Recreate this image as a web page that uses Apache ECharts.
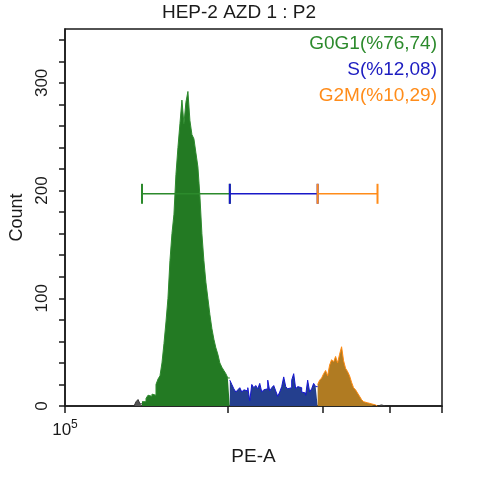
<!DOCTYPE html>
<html>
<head>
<meta charset="utf-8">
<script src="https://cdn.jsdelivr.net/npm/echarts@6/dist/echarts.min.js"></script>
<style>
html,body{margin:0;padding:0;background:#fff;}
#c{width:500px;height:493px;}
</style>
</head>
<body>
<div id="c"></div>
<script>
// x values are log10(PE-A)
const binStart = 5.128;
const binWidth = 0.0037;
const preGateCounts = [0, 4, 6, 2];
const g0g1Counts = [4, 4, 7, 10, 9, 11, 10, 20, 25, 28,
  40, 58, 78, 100, 135, 160, 178, 215, 240, 262,
  284, 262, 282, 292, 265, 252, 248, 235, 222, 195,
  160, 135, 115, 100, 85, 72, 62, 54, 48, 40,
  36, 33, 30, 26];
const sCounts = [24, 20, 16, 13, 15, 17, 13, 15, 14, 17,
  5, 20, 17, 19, 16, 21, 13, 15, 16, 24,
  14, 17, 19, 14, 9, 13, 18, 27, 18, 16,
  17, 24, 30, 16, 18, 17, 13, 12, 10, 24,
  13, 16, 21, 18];
const g2mCounts = [20, 24, 26, 30, 33, 28, 38, 43, 41, 46,
  40, 48, 55, 42, 35, 32, 28, 22, 17, 15,
  12, 9, 6, 4, 3, 2, 2, 1, 1, 0];
const postGateCounts = [0, 1, 2, 0];

const gateNames = ['G0G1(%76,74)', 'S(%12,08)', 'G2M(%10,29)'];
const gateY = 197;
const xTickValues = [1e5, 2e5, 3e5, 4e5, 5e5];
const yTickValues = [0,20,40,60,80,100,120,140,160,180,200,220,240,260,280,300,320,340];
const yLabelValues = [0, 100, 200, 300];

const FONT = '"Liberation Sans", Arial, sans-serif';
const cGreen = '#2c8a2c', cBlue = '#1818c8', cOrange = '#ff8c1a';

function seg(counts, offset) {
  const pts = counts.map((c, i) => [binStart + (offset + i) * binWidth, c]);
  pts.push([binStart + (offset + counts.length) * binWidth, counts[counts.length - 1]]);
  return pts;
}
let off = 0;
const segs = [];
[preGateCounts, g0g1Counts, sCounts, g2mCounts, postGateCounts].forEach(a => { segs.push(seg(a, off)); off += a.length; });
const gateEdges = [];
{
  let o = preGateCounts.length;
  [g0g1Counts, sCounts, g2mCounts].forEach(a => {
    gateEdges.push([binStart + o * binWidth, binStart + (o + a.length) * binWidth]);
    o += a.length;
  });
}
const styles = [
  {line: '#333', fill: '#555'},
  {line: '#2e8a2e', fill: '#237a23'},
  {line: '#1414d2', fill: '#243f8e'},
  {line: '#ff8a10', fill: '#b07b22'},
  {line: '#333', fill: '#555'}
];
const gateColors = [cGreen, cBlue, cOrange];

const series = segs.map((d, k) => ({
  type: 'line', step: 'end', data: d, symbol: 'none', silent: true,
  lineStyle: {color: styles[k].line, width: 1},
  areaStyle: {color: styles[k].fill, opacity: 1},
  z: 2
}));
series.push({
  type: 'custom', z: 5, silent: true,
  data: gateEdges.map((e, k) => [e[0], e[1], gateY, k]),
  encode: {x: [0, 1], y: 2},
  renderItem: function (params, api) {
    const p1 = api.coord([api.value(0), api.value(2)]);
    const p2 = api.coord([api.value(1), api.value(2)]);
    const col = gateColors[api.value(3)];
    const st = {stroke: col, lineWidth: 1.6};
    return {type: 'group', children: [
      {type: 'line', shape: {x1: p1[0], y1: p1[1], x2: p2[0], y2: p2[1]}, style: st},
      {type: 'line', shape: {x1: p1[0], y1: p1[1] - 10, x2: p1[0], y2: p1[1] + 10}, style: {stroke: col, lineWidth: 2}},
      {type: 'line', shape: {x1: p2[0], y1: p2[1] - 10, x2: p2[0], y2: p2[1] + 10}, style: {stroke: col, lineWidth: 2}}
    ]};
  }
});

const chart = echarts.init(document.getElementById('c'), null, {renderer: 'canvas'});
chart.setOption({
  animation: false,
  backgroundColor: '#fff',
  grid: {left: 65, top: 29, width: 377, height: 377, containLabel: false, outerBoundsMode: 'none',
    show: true, borderColor: '#1a1a1a', borderWidth: 1.5, backgroundColor: 'transparent'},
  xAxis: {
    type: 'value', min: 5, max: Math.log10(5e5),
    name: 'PE-A', nameLocation: 'middle', nameGap: 41,
    nameTextStyle: {fontFamily: FONT, fontSize: 19, color: '#1a1a1a'},
    axisLine: {show: true, lineStyle: {color: '#1a1a1a', width: 1.5}},
    axisTick: {show: true, length: 7, lineStyle: {color: '#1a1a1a', width: 1.5}, customValues: xTickValues.map(v => Math.log10(v))},
    axisLabel: {
      show: true, margin: 13, customValues: [5],
      formatter: v => Math.abs(v - 5) < 1e-9 ? '{a|10}{b|5}' : '',
      rich: {
        a: {fontFamily: FONT, fontSize: 17, color: '#1a1a1a', lineHeight: 22},
        b: {fontFamily: FONT, fontSize: 12, color: '#1a1a1a', verticalAlign: 'top', lineHeight: 14}
      }
    },
    splitLine: {show: false}
  },
  yAxis: {
    type: 'value', min: 0, max: 350,
    name: 'Count', nameLocation: 'middle', nameGap: 38,
    nameTextStyle: {fontFamily: FONT, fontSize: 18, color: '#1a1a1a'},
    axisLine: {show: true, lineStyle: {color: '#1a1a1a', width: 1.5}},
    axisTick: {show: true, length: 6, lineStyle: {color: '#1a1a1a', width: 1.5}, customValues: yTickValues},
    axisLabel: {show: true, rotate: 90, margin: 14, customValues: yLabelValues, fontFamily: FONT, fontSize: 17, color: '#1a1a1a'},
    splitLine: {show: false}
  },
  graphic: [
    {type: 'text', x: 239, y: 13, style: {text: 'HEP-2 AZD 1 : P2', font: '19px ' + FONT, fill: '#1a1a1a', textAlign: 'center', textVerticalAlign: 'middle'}},
    {type: 'text', x: 437, y: 43.5, z: 10, style: {text: gateNames[0], font: '19px ' + FONT, fill: cGreen, textAlign: 'right', textVerticalAlign: 'middle'}},
    {type: 'text', x: 437, y: 69.5, z: 10, style: {text: gateNames[1], font: '19px ' + FONT, fill: '#1c1cc0', textAlign: 'right', textVerticalAlign: 'middle'}},
    {type: 'text', x: 437, y: 95.5, z: 10, style: {text: gateNames[2], font: '19px ' + FONT, fill: cOrange, textAlign: 'right', textVerticalAlign: 'middle'}}
  ],
  series: series
});
</script>
</body>
</html>
